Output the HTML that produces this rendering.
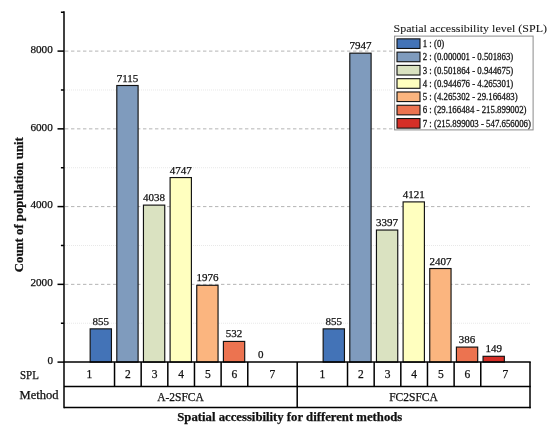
<!DOCTYPE html>
<html lang="en">
<head>
<meta charset="utf-8">
<title>Spatial accessibility for different methods</title>
<style>
html,body{margin:0;padding:0;background:#fff;}
body{width:550px;height:429px;overflow:hidden;}
svg{display:block;}
svg text{font-family:"Liberation Serif",serif;fill:#111;stroke:#111;stroke-width:0.25px;}
</style>
</head>
<body>
<svg width="550" height="429" viewBox="0 0 550 429">
<rect x="0" y="0" width="550" height="429" fill="#ffffff"/>
<g fill="none">
<line x1="65.0" y1="323.23" x2="530.0" y2="323.23" stroke="#e8e8e8" stroke-width="1" stroke-dasharray="1 1"/>
<line x1="65.0" y1="284.35" x2="530.0" y2="284.35" stroke="#b4b4b4" stroke-width="1" stroke-dasharray="3.4 2.6"/>
<line x1="65.0" y1="245.48" x2="530.0" y2="245.48" stroke="#e8e8e8" stroke-width="1" stroke-dasharray="1 1"/>
<line x1="65.0" y1="206.60" x2="530.0" y2="206.60" stroke="#b4b4b4" stroke-width="1" stroke-dasharray="3.4 2.6"/>
<line x1="65.0" y1="167.73" x2="530.0" y2="167.73" stroke="#e8e8e8" stroke-width="1" stroke-dasharray="1 1"/>
<line x1="65.0" y1="128.85" x2="530.0" y2="128.85" stroke="#b4b4b4" stroke-width="1" stroke-dasharray="3.4 2.6"/>
<line x1="65.0" y1="89.98" x2="530.0" y2="89.98" stroke="#e8e8e8" stroke-width="1" stroke-dasharray="1 1"/>
<line x1="65.0" y1="51.10" x2="530.0" y2="51.10" stroke="#b4b4b4" stroke-width="1" stroke-dasharray="3.4 2.6"/>
</g>
<g stroke="#111" stroke-width="1.15">
<rect x="90.15" y="328.86" width="21.30" height="33.24" fill="#4373B7"/>
<rect x="116.80" y="85.50" width="21.30" height="276.60" fill="#7F9BBD"/>
<rect x="143.45" y="205.12" width="21.30" height="156.98" fill="#DAE2C1"/>
<rect x="170.10" y="177.56" width="21.30" height="184.54" fill="#FFFFBF"/>
<rect x="196.75" y="285.28" width="21.30" height="76.82" fill="#FBB57F"/>
<rect x="223.40" y="341.42" width="21.30" height="20.68" fill="#EC7350"/>
<rect x="323.15" y="328.86" width="21.30" height="33.24" fill="#4373B7"/>
<rect x="349.80" y="53.16" width="21.30" height="308.94" fill="#7F9BBD"/>
<rect x="376.45" y="230.04" width="21.30" height="132.06" fill="#DAE2C1"/>
<rect x="403.10" y="201.90" width="21.30" height="160.20" fill="#FFFFBF"/>
<rect x="429.75" y="268.53" width="21.30" height="93.57" fill="#FBB57F"/>
<rect x="456.40" y="347.09" width="21.30" height="15.01" fill="#EC7350"/>
<rect x="483.05" y="356.31" width="21.30" height="5.79" fill="#D62F27"/>
</g>
<g font-size="11" text-anchor="middle">
<text x="100.80" y="324.86">855</text>
<text x="127.45" y="81.50">7115</text>
<text x="154.10" y="201.12">4038</text>
<text x="180.75" y="173.56">4747</text>
<text x="207.40" y="281.28">1976</text>
<text x="234.05" y="337.42">532</text>
<text x="260.70" y="358.10">0</text>
<text x="333.80" y="324.86">855</text>
<text x="360.45" y="49.16">7947</text>
<text x="387.10" y="226.04">3397</text>
<text x="413.75" y="197.90">4121</text>
<text x="440.40" y="264.53">2407</text>
<text x="467.05" y="343.09">386</text>
<text x="493.70" y="352.31">149</text>
</g>
<g stroke="#000" stroke-width="1.5" fill="none">
<line x1="64.0" y1="11.3" x2="64.0" y2="408.15"/>
<line x1="57.5" y1="362.10" x2="64.0" y2="362.10"/>
<line x1="60.9" y1="323.23" x2="64.0" y2="323.23"/>
<line x1="57.5" y1="284.35" x2="64.0" y2="284.35"/>
<line x1="60.9" y1="245.48" x2="64.0" y2="245.48"/>
<line x1="57.5" y1="206.60" x2="64.0" y2="206.60"/>
<line x1="60.9" y1="167.73" x2="64.0" y2="167.73"/>
<line x1="57.5" y1="128.85" x2="64.0" y2="128.85"/>
<line x1="60.9" y1="89.98" x2="64.0" y2="89.98"/>
<line x1="57.5" y1="51.10" x2="64.0" y2="51.10"/>
<line x1="60.9" y1="12.23" x2="64.0" y2="12.23"/>
<line x1="64.0" y1="362.1" x2="530.75" y2="362.1"/>
<line x1="64.0" y1="386.4" x2="530.75" y2="386.4"/>
<line x1="64.0" y1="407.4" x2="530.75" y2="407.4"/>
<line x1="530.0" y1="362.1" x2="530.0" y2="408.15"/>
<line x1="297.2" y1="362.1" x2="297.2" y2="407.4"/>
<line x1="114.53" y1="362.1" x2="114.53" y2="386.4"/>
<line x1="141.17" y1="362.1" x2="141.17" y2="386.4"/>
<line x1="167.82" y1="362.1" x2="167.82" y2="386.4"/>
<line x1="194.47" y1="362.1" x2="194.47" y2="386.4"/>
<line x1="221.12" y1="362.1" x2="221.12" y2="386.4"/>
<line x1="247.78" y1="362.1" x2="247.78" y2="386.4"/>
<line x1="347.52" y1="362.1" x2="347.52" y2="386.4"/>
<line x1="374.17" y1="362.1" x2="374.17" y2="386.4"/>
<line x1="400.82" y1="362.1" x2="400.82" y2="386.4"/>
<line x1="427.47" y1="362.1" x2="427.47" y2="386.4"/>
<line x1="454.12" y1="362.1" x2="454.12" y2="386.4"/>
<line x1="480.77" y1="362.1" x2="480.77" y2="386.4"/>
</g>
<g font-size="11.1">
<text x="47.6" y="363.90">0</text>
<text x="30.4" y="286.15" textLength="22.4" lengthAdjust="spacingAndGlyphs">2000</text>
<text x="30.4" y="208.40" textLength="22.4" lengthAdjust="spacingAndGlyphs">4000</text>
<text x="30.4" y="130.65" textLength="22.4" lengthAdjust="spacingAndGlyphs">6000</text>
<text x="30.4" y="52.90" textLength="22.4" lengthAdjust="spacingAndGlyphs">8000</text>
</g>
<g font-size="11.5">
<text x="20" y="378.5" textLength="18.8" lengthAdjust="spacingAndGlyphs">SPL</text>
<text x="19.6" y="398.9" textLength="39" lengthAdjust="spacingAndGlyphs">Method</text>
</g>
<g font-size="11.5" text-anchor="middle">
<text x="89.26" y="378.2">1</text>
<text x="127.85" y="378.2">2</text>
<text x="154.50" y="378.2">3</text>
<text x="181.15" y="378.2">4</text>
<text x="207.80" y="378.2">5</text>
<text x="234.45" y="378.2">6</text>
<text x="272.39" y="378.2">7</text>
<text x="322.26" y="378.2">1</text>
<text x="360.85" y="378.2">2</text>
<text x="387.50" y="378.2">3</text>
<text x="414.15" y="378.2">4</text>
<text x="440.80" y="378.2">5</text>
<text x="467.45" y="378.2">6</text>
<text x="505.39" y="378.2">7</text>
<text x="180.50" y="400.6">A-2SFCA</text>
<text x="413.50" y="400.6">FC2SFCA</text>
</g>
<text x="177.3" y="421.2" font-size="12.2" font-weight="bold" textLength="225" lengthAdjust="spacingAndGlyphs">Spatial accessibility for different methods</text>
<text transform="translate(23.2 272.2) rotate(-90)" font-size="12.2" font-weight="bold" textLength="135" lengthAdjust="spacingAndGlyphs">Count of population unit</text>
<text x="393.6" y="31.5" font-size="11.3" style="stroke-width:0.05px" textLength="153.4" lengthAdjust="spacingAndGlyphs">Spatial accessibility level (SPL)</text>
<rect x="394.6" y="36.1" width="138.5" height="93.8" fill="#fff" stroke="#8a8a8a" stroke-width="1"/>
<g font-size="9.5">
<rect x="397" y="38.85" width="23" height="9.6" fill="#4373B7" stroke="#111" stroke-width="1.1"/>
<text transform="translate(422.7 47.05) scale(0.929 1)">1 : (0)</text>
<rect x="397" y="52.13" width="23" height="9.6" fill="#7F9BBD" stroke="#111" stroke-width="1.1"/>
<text transform="translate(422.7 60.33) scale(0.929 1)">2 : (0.000001 - 0.501863)</text>
<rect x="397" y="65.41" width="23" height="9.6" fill="#DAE2C1" stroke="#111" stroke-width="1.1"/>
<text transform="translate(422.7 73.61) scale(0.929 1)">3 : (0.501864 - 0.944675)</text>
<rect x="397" y="78.69" width="23" height="9.6" fill="#FFFFBF" stroke="#111" stroke-width="1.1"/>
<text transform="translate(422.7 86.89) scale(0.929 1)">4 : (0.944676 - 4.265301)</text>
<rect x="397" y="91.97" width="23" height="9.6" fill="#FBB57F" stroke="#111" stroke-width="1.1"/>
<text transform="translate(422.7 100.17) scale(0.929 1)">5 : (4.265302 - 29.166483)</text>
<rect x="397" y="105.25" width="23" height="9.6" fill="#EC7350" stroke="#111" stroke-width="1.1"/>
<text transform="translate(422.7 113.45) scale(0.929 1)">6 : (29.166484 - 215.899002)</text>
<rect x="397" y="118.53" width="23" height="9.6" fill="#D62F27" stroke="#111" stroke-width="1.1"/>
<text transform="translate(422.7 126.73) scale(0.929 1)">7 : (215.899003 - 547.656006)</text>
</g>
</svg>
</body>
</html>
